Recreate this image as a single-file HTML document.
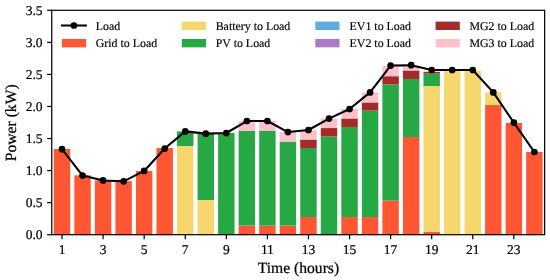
<!DOCTYPE html>
<html lang="en"><head><meta charset="utf-8"><title>Load supply chart</title>
<style>html,body{margin:0;padding:0;background:#fff}body{width:550px;height:280px;overflow:hidden}svg{display:block}text{font-family:'Liberation Serif','Times New Roman',Times,serif;fill:#000;text-rendering:geometricPrecision;stroke:#000}</style></head><body>
<svg width="550" height="280" viewBox="0 0 550 280">
<rect width="550" height="280" fill="#fff"/>
<g>
<rect x="53.80" y="148.99" width="16.43" height="85.71" fill="#FF5733"/>
<rect x="74.34" y="175.29" width="16.43" height="59.41" fill="#FF5733"/>
<rect x="94.88" y="180.41" width="16.43" height="54.29" fill="#FF5733"/>
<rect x="115.42" y="181.18" width="16.43" height="53.52" fill="#FF5733"/>
<rect x="135.95" y="170.94" width="16.43" height="63.76" fill="#FF5733"/>
<rect x="156.49" y="148.03" width="16.43" height="86.67" fill="#FF5733"/>
<rect x="177.03" y="145.98" width="16.43" height="88.72" fill="#F5D76E"/>
<rect x="177.03" y="131.39" width="16.43" height="14.59" fill="#28A745"/>
<rect x="197.57" y="200.00" width="16.43" height="34.70" fill="#F5D76E"/>
<rect x="197.57" y="132.99" width="16.43" height="67.01" fill="#28A745"/>
<rect x="218.10" y="132.99" width="16.43" height="101.71" fill="#28A745"/>
<rect x="238.64" y="225.60" width="16.43" height="9.10" fill="#FF5733"/>
<rect x="238.64" y="131.00" width="16.43" height="94.59" fill="#28A745"/>
<rect x="238.64" y="121.02" width="16.43" height="9.98" fill="#FFC0CB"/>
<rect x="259.18" y="225.60" width="16.43" height="9.10" fill="#FF5733"/>
<rect x="259.18" y="130.62" width="16.43" height="94.98" fill="#28A745"/>
<rect x="259.18" y="121.02" width="16.43" height="9.60" fill="#FFC0CB"/>
<rect x="279.72" y="225.60" width="16.43" height="9.10" fill="#FF5733"/>
<rect x="279.72" y="141.63" width="16.43" height="83.97" fill="#28A745"/>
<rect x="279.72" y="132.03" width="16.43" height="9.60" fill="#FFC0CB"/>
<rect x="300.25" y="217.02" width="16.43" height="17.68" fill="#FF5733"/>
<rect x="300.25" y="148.03" width="16.43" height="68.99" fill="#28A745"/>
<rect x="300.25" y="139.58" width="16.43" height="8.45" fill="#A52A2A"/>
<rect x="300.25" y="129.98" width="16.43" height="9.60" fill="#FFC0CB"/>
<rect x="320.79" y="136.38" width="16.43" height="98.32" fill="#28A745"/>
<rect x="320.79" y="128.06" width="16.43" height="8.32" fill="#A52A2A"/>
<rect x="320.79" y="118.59" width="16.43" height="9.47" fill="#FFC0CB"/>
<rect x="341.33" y="217.02" width="16.43" height="17.68" fill="#FF5733"/>
<rect x="341.33" y="126.97" width="16.43" height="90.05" fill="#28A745"/>
<rect x="341.33" y="118.46" width="16.43" height="8.51" fill="#A52A2A"/>
<rect x="341.33" y="108.99" width="16.43" height="9.47" fill="#FFC0CB"/>
<rect x="361.87" y="217.02" width="16.43" height="17.68" fill="#FF5733"/>
<rect x="361.87" y="110.59" width="16.43" height="106.43" fill="#28A745"/>
<rect x="361.87" y="102.46" width="16.43" height="8.13" fill="#A52A2A"/>
<rect x="361.87" y="92.41" width="16.43" height="10.05" fill="#FFC0CB"/>
<rect x="382.40" y="200.64" width="16.43" height="34.06" fill="#FF5733"/>
<rect x="382.40" y="84.41" width="16.43" height="116.22" fill="#28A745"/>
<rect x="382.40" y="76.22" width="16.43" height="8.19" fill="#A52A2A"/>
<rect x="382.40" y="65.98" width="16.43" height="10.24" fill="#FFC0CB"/>
<rect x="402.94" y="137.02" width="16.43" height="97.68" fill="#FF5733"/>
<rect x="402.94" y="78.97" width="16.43" height="58.05" fill="#28A745"/>
<rect x="402.94" y="70.46" width="16.43" height="8.51" fill="#A52A2A"/>
<rect x="402.94" y="67.00" width="16.43" height="3.46" fill="#FFC0CB"/>
<rect x="423.48" y="231.74" width="16.43" height="2.96" fill="#FF5733"/>
<rect x="423.48" y="86.01" width="16.43" height="145.73" fill="#F5D76E"/>
<rect x="423.48" y="73.60" width="16.43" height="12.42" fill="#28A745"/>
<rect x="423.48" y="71.93" width="16.43" height="1.66" fill="#A52A2A"/>
<rect x="423.48" y="71.29" width="16.43" height="0.64" fill="#FFC0CB"/>
<rect x="444.02" y="71.10" width="16.43" height="163.60" fill="#F5D76E"/>
<rect x="464.55" y="70.59" width="16.43" height="164.11" fill="#F5D76E"/>
<rect x="485.09" y="105.02" width="16.43" height="129.68" fill="#FF5733"/>
<rect x="485.09" y="92.41" width="16.43" height="12.61" fill="#F5D76E"/>
<rect x="505.63" y="122.94" width="16.43" height="111.76" fill="#FF5733"/>
<rect x="526.17" y="152.00" width="16.43" height="82.70" fill="#FF5733"/>
</g>
<polyline points="62.02,149.18 82.56,175.61 103.09,180.41 123.63,181.31 144.17,170.94 164.71,148.54 185.24,131.39 205.78,133.63 226.32,132.99 246.86,121.02 267.39,121.02 287.93,132.03 308.47,129.98 329.01,118.59 349.54,108.99 370.08,92.41 390.62,65.60 411.16,65.21 431.69,70.01 452.23,70.01 472.77,70.01 493.31,92.41 513.84,122.62 534.38,152.00" fill="none" stroke="#000" stroke-width="2.05" stroke-linejoin="round"/>
<g fill="#000">
<circle cx="62.02" cy="149.18" r="3.35"/>
<circle cx="82.56" cy="175.61" r="3.35"/>
<circle cx="103.09" cy="180.41" r="3.35"/>
<circle cx="123.63" cy="181.31" r="3.35"/>
<circle cx="144.17" cy="170.94" r="3.35"/>
<circle cx="164.71" cy="148.54" r="3.35"/>
<circle cx="185.24" cy="131.39" r="3.35"/>
<circle cx="205.78" cy="133.63" r="3.35"/>
<circle cx="226.32" cy="132.99" r="3.35"/>
<circle cx="246.86" cy="121.02" r="3.35"/>
<circle cx="267.39" cy="121.02" r="3.35"/>
<circle cx="287.93" cy="132.03" r="3.35"/>
<circle cx="308.47" cy="129.98" r="3.35"/>
<circle cx="329.01" cy="118.59" r="3.35"/>
<circle cx="349.54" cy="108.99" r="3.35"/>
<circle cx="370.08" cy="92.41" r="3.35"/>
<circle cx="390.62" cy="65.60" r="3.35"/>
<circle cx="411.16" cy="65.21" r="3.35"/>
<circle cx="431.69" cy="70.01" r="3.35"/>
<circle cx="452.23" cy="70.01" r="3.35"/>
<circle cx="472.77" cy="70.01" r="3.35"/>
<circle cx="493.31" cy="92.41" r="3.35"/>
<circle cx="513.84" cy="122.62" r="3.35"/>
<circle cx="534.38" cy="152.00" r="3.35"/>
</g>
<rect x="51.75" y="10.30" width="492.90" height="224.40" fill="none" stroke="#000" stroke-width="1.22"/>
<g stroke="#000" stroke-width="1.22">
<line x1="47.15" y1="234.70" x2="51.75" y2="234.70"/>
<line x1="47.15" y1="202.64" x2="51.75" y2="202.64"/>
<line x1="47.15" y1="170.59" x2="51.75" y2="170.59"/>
<line x1="47.15" y1="138.53" x2="51.75" y2="138.53"/>
<line x1="47.15" y1="106.47" x2="51.75" y2="106.47"/>
<line x1="47.15" y1="74.41" x2="51.75" y2="74.41"/>
<line x1="47.15" y1="42.36" x2="51.75" y2="42.36"/>
<line x1="47.15" y1="10.30" x2="51.75" y2="10.30"/>
<line x1="62.02" y1="234.70" x2="62.02" y2="239.30"/>
<line x1="103.09" y1="234.70" x2="103.09" y2="239.30"/>
<line x1="144.17" y1="234.70" x2="144.17" y2="239.30"/>
<line x1="185.24" y1="234.70" x2="185.24" y2="239.30"/>
<line x1="226.32" y1="234.70" x2="226.32" y2="239.30"/>
<line x1="267.39" y1="234.70" x2="267.39" y2="239.30"/>
<line x1="308.47" y1="234.70" x2="308.47" y2="239.30"/>
<line x1="349.54" y1="234.70" x2="349.54" y2="239.30"/>
<line x1="390.62" y1="234.70" x2="390.62" y2="239.30"/>
<line x1="431.69" y1="234.70" x2="431.69" y2="239.30"/>
<line x1="472.77" y1="234.70" x2="472.77" y2="239.30"/>
<line x1="513.84" y1="234.70" x2="513.84" y2="239.30"/>
</g>
<g font-size="13.5" text-anchor="end" stroke-width="0.2">
<text x="42.55" y="239.30">0.0</text>
<text x="42.55" y="207.24">0.5</text>
<text x="42.55" y="175.19">1.0</text>
<text x="42.55" y="143.13">1.5</text>
<text x="42.55" y="111.07">2.0</text>
<text x="42.55" y="79.01">2.5</text>
<text x="42.55" y="46.96">3.0</text>
<text x="42.55" y="14.90">3.5</text>
</g>
<g font-size="13.5" text-anchor="middle" stroke-width="0.2">
<text x="62.02" y="253.50">1</text>
<text x="103.09" y="253.50">3</text>
<text x="144.17" y="253.50">5</text>
<text x="185.24" y="253.50">7</text>
<text x="226.32" y="253.50">9</text>
<text x="267.39" y="253.50">11</text>
<text x="308.47" y="253.50">13</text>
<text x="349.54" y="253.50">15</text>
<text x="390.62" y="253.50">17</text>
<text x="431.69" y="253.50">19</text>
<text x="472.77" y="253.50">21</text>
<text x="513.84" y="253.50">23</text>
</g>
<text x="298.4" y="273" font-size="15.65" stroke-width="0.22" text-anchor="middle">Time (hours)</text>
<text transform="translate(16.1,122.8) rotate(-90)" font-size="15.65" stroke-width="0.22" text-anchor="middle">Power (kW)</text>
<g font-size="11.9" stroke-width="0.16">
<line x1="60.90" y1="25.50" x2="86.90" y2="25.50" stroke="#000" stroke-width="2.05"/>
<circle cx="73.90" cy="25.50" r="3.35" fill="#000"/>
<text x="95.70" y="29.90">Load</text>
<rect x="61.90" y="38.95" width="24.2" height="8.4" fill="#FF5733"/>
<text x="95.70" y="47.25">Grid to Load</text>
<rect x="181.80" y="21.60" width="24.2" height="8.4" fill="#F5D76E"/>
<text x="215.70" y="29.90">Battery to Load</text>
<rect x="181.80" y="38.95" width="24.2" height="8.4" fill="#28A745"/>
<text x="215.70" y="47.25">PV to Load</text>
<rect x="315.30" y="21.60" width="24.2" height="8.4" fill="#5DADE2"/>
<text x="349.60" y="29.90">EV1 to Load</text>
<rect x="315.30" y="38.95" width="24.2" height="8.4" fill="#AF7AC5"/>
<text x="349.60" y="47.25">EV2 to Load</text>
<rect x="435.60" y="21.60" width="24.2" height="8.4" fill="#A52A2A"/>
<text x="469.40" y="29.90">MG2 to Load</text>
<rect x="435.60" y="38.95" width="24.2" height="8.4" fill="#FFC0CB"/>
<text x="469.40" y="47.25">MG3 to Load</text>
</g>
</svg></body></html>
